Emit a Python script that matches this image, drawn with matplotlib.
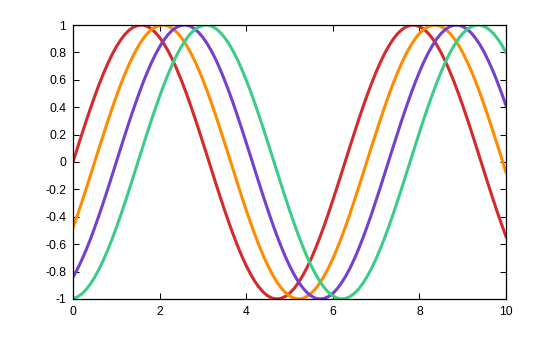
import matplotlib
matplotlib.use("Agg")
import matplotlib.pyplot as plt

# curves every 0.1 along x, from 0 to 10
x = [i / 10 for i in range(101)]

red = [0.000, 0.100, 0.199, 0.296, 0.389, 0.479, 0.565, 0.644, 0.717, 0.783,
       0.841, 0.891, 0.932, 0.964, 0.985, 0.997, 1.000, 0.992, 0.974, 0.946,
       0.909, 0.863, 0.808, 0.746, 0.675, 0.598, 0.516, 0.427, 0.335, 0.239,
       0.141, 0.042, -0.058, -0.158, -0.256, -0.351, -0.443, -0.530, -0.612, -0.688,
       -0.757, -0.818, -0.872, -0.916, -0.952, -0.978, -0.994, -1.000, -0.996, -0.982,
       -0.959, -0.926, -0.883, -0.832, -0.773, -0.706, -0.631, -0.551, -0.465, -0.374,
       -0.279, -0.182, -0.083, 0.017, 0.117, 0.215, 0.312, 0.405, 0.494, 0.578,
       0.657, 0.729, 0.794, 0.850, 0.899, 0.938, 0.968, 0.988, 0.999, 0.999,
       0.989, 0.970, 0.941, 0.902, 0.855, 0.799, 0.734, 0.663, 0.585, 0.501,
       0.412, 0.319, 0.223, 0.125, 0.025, -0.075, -0.174, -0.272, -0.367, -0.458,
       -0.544]

orange = [-0.479, -0.389, -0.296, -0.199, -0.100, 0.000, 0.100, 0.199, 0.296, 0.389,
          0.479, 0.565, 0.644, 0.717, 0.783, 0.841, 0.891, 0.932, 0.964, 0.985,
          0.997, 1.000, 0.992, 0.974, 0.946, 0.909, 0.863, 0.808, 0.746, 0.675,
          0.598, 0.516, 0.427, 0.335, 0.239, 0.141, 0.042, -0.058, -0.158, -0.256,
          -0.351, -0.443, -0.530, -0.612, -0.688, -0.757, -0.818, -0.872, -0.916, -0.952,
          -0.978, -0.994, -1.000, -0.996, -0.982, -0.959, -0.926, -0.883, -0.832, -0.773,
          -0.706, -0.631, -0.551, -0.465, -0.374, -0.279, -0.182, -0.083, 0.017, 0.117,
          0.215, 0.312, 0.405, 0.494, 0.578, 0.657, 0.729, 0.794, 0.850, 0.899,
          0.938, 0.968, 0.988, 0.999, 0.999, 0.989, 0.970, 0.941, 0.902, 0.855,
          0.799, 0.734, 0.663, 0.585, 0.501, 0.412, 0.319, 0.223, 0.125, 0.025,
          -0.075]

purple = [-0.841, -0.783, -0.717, -0.644, -0.565, -0.479, -0.389, -0.296, -0.199, -0.100,
          0.000, 0.100, 0.199, 0.296, 0.389, 0.479, 0.565, 0.644, 0.717, 0.783,
          0.841, 0.891, 0.932, 0.964, 0.985, 0.997, 1.000, 0.992, 0.974, 0.946,
          0.909, 0.863, 0.808, 0.746, 0.675, 0.598, 0.516, 0.427, 0.335, 0.239,
          0.141, 0.042, -0.058, -0.158, -0.256, -0.351, -0.443, -0.530, -0.612, -0.688,
          -0.757, -0.818, -0.872, -0.916, -0.952, -0.978, -0.994, -1.000, -0.996, -0.982,
          -0.959, -0.926, -0.883, -0.832, -0.773, -0.706, -0.631, -0.551, -0.465, -0.374,
          -0.279, -0.182, -0.083, 0.017, 0.117, 0.215, 0.312, 0.405, 0.494, 0.578,
          0.657, 0.729, 0.794, 0.850, 0.899, 0.938, 0.968, 0.988, 0.999, 0.999,
          0.989, 0.970, 0.941, 0.902, 0.855, 0.799, 0.734, 0.663, 0.585, 0.501,
          0.412]

green = [-0.997, -0.985, -0.964, -0.932, -0.891, -0.841, -0.783, -0.717, -0.644, -0.565,
         -0.479, -0.389, -0.296, -0.199, -0.100, 0.000, 0.100, 0.199, 0.296, 0.389,
         0.479, 0.565, 0.644, 0.717, 0.783, 0.841, 0.891, 0.932, 0.964, 0.985,
         0.997, 1.000, 0.992, 0.974, 0.946, 0.909, 0.863, 0.808, 0.746, 0.675,
         0.598, 0.516, 0.427, 0.335, 0.239, 0.141, 0.042, -0.058, -0.158, -0.256,
         -0.351, -0.443, -0.530, -0.612, -0.688, -0.757, -0.818, -0.872, -0.916, -0.952,
         -0.978, -0.994, -1.000, -0.996, -0.982, -0.959, -0.926, -0.883, -0.832, -0.773,
         -0.706, -0.631, -0.551, -0.465, -0.374, -0.279, -0.182, -0.083, 0.017, 0.117,
         0.215, 0.312, 0.405, 0.494, 0.578, 0.657, 0.729, 0.794, 0.850, 0.899,
         0.938, 0.968, 0.988, 0.999, 0.999, 0.989, 0.970, 0.941, 0.902, 0.855,
         0.799]

x_ticks = [0, 2, 4, 6, 8, 10]
y_ticks = [-1, -0.8, -0.6, -0.4, -0.2, 0, 0.2, 0.4, 0.6, 0.8, 1]
y_tick_labels = ["-1", "-0.8", "-0.6", "-0.4", "-0.2", "0", "0.2", "0.4", "0.6", "0.8", "1"]

plt.rcParams["font.family"] = ["Liberation Sans", "DejaVu Sans"]
plt.rcParams["axes.unicode_minus"] = False

fig = plt.figure(figsize=(5.6, 3.37), dpi=100)
ax = fig.add_axes([0.1304, 0.1128, 0.7732, 0.813])

lw = 2.2
ax.plot(x, red, color="#d42a2a", lw=lw)
ax.plot(x, orange, color="#ff8c00", lw=lw)
ax.plot(x, purple, color="#7440d0", lw=lw)
ax.plot(x, green, color="#3ccc8a", lw=lw)

ax.set_xlim(0, 10)
ax.set_ylim(-1, 1)
ax.set_xticks(x_ticks)
ax.set_xticklabels([str(t) for t in x_ticks])
ax.set_yticks(y_ticks)
ax.set_yticklabels(y_tick_labels)

ax.tick_params(direction="in", length=4, width=0.75, top=True, right=True,
               labelsize=8.8, colors="black", pad=5)
for sp in ax.spines.values():
    sp.set_linewidth(0.9)
    sp.set_color("black")

fig.savefig("out.png", dpi=100)
